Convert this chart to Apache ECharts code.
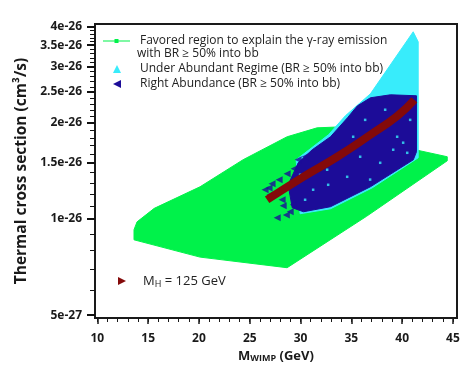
<!DOCTYPE html>
<html>
<head>
<meta charset="utf-8">
<script src="https://cdn.jsdelivr.net/npm/echarts@6/dist/echarts.min.js"></script>
<style>
html,body{margin:0;padding:0;background:#fff;}
#chart{width:474px;height:371px;}
</style>
</head>
<body>
<div id="chart"></div>
<script>
// ---- data (x: M_WIMP in GeV, y: thermal cross section in cm^3/s) ----
const xMajorTicks = [10, 15, 20, 25, 30, 35, 40, 45];
const yTickValues = [5e-27, 1e-26, 1.5e-26, 2e-26, 2.5e-26, 3e-26, 3.5e-26, 4e-26];
const yTickLabels = ['5e-27', '1e-26', '1.5e-26', '2e-26', '2.5e-26', '3e-26', '3.5e-26', '4e-26'];

// favoured region (outline of the green point cloud)
const favoredRegion = [
  [13.61, 8.61e-27], [13.61, 9.26e-27], [13.91, 9.8e-27], [15.6, 1.08e-26],
  [20.11, 1.262e-26], [24.35, 1.534e-26], [28.68, 1.81e-26], [31.63, 1.93e-26],
  [35.0, 1.95e-26], [41.28, 1.648e-26], [44.44, 1.567e-26], [44.44, 1.522e-26],
  [36.5, 1.02e-26], [28.68, 7.04e-27], [20.11, 7.6e-27]
];
// under-abundant regime (outline of the cyan cloud)
const underAbundant = [
  [41.09, 3.857e-26], [41.58, 3.589e-26], [41.58, 1.555e-26], [37.07, 1.253e-26],
  [32.95, 1.077e-26], [29.96, 1.039e-26], [29.57, 1.533e-26], [32.75, 1.836e-26],
  [34.41, 2.105e-26], [36.88, 2.467e-26]
];
// under-abundant points showing through the right-abundance cloud
const underAbundantPoints = [
  [40.5, 1.612e-26], [39.12, 1.648e-26], [34.59, 1.356e-26], [37.84, 1.5e-26],
  [35.87, 1.567e-26], [36.85, 1.329e-26], [32.72, 1.28e-26], [31.24, 1.235e-26],
  [39.51, 1.81e-26], [40.1, 1.734e-26], [35.18, 1.81e-26], [32.62, 1.427e-26],
  [40.79, 2.044e-26], [38.33, 2.199e-26], [36.36, 2.044e-26], [29.96, 1.376e-26],
  [30.45, 1.149e-26]
];
// right abundance (outline of the navy cloud)
const rightAbundance = [
  [29.77, 1.5e-26], [31.15, 1.648e-26], [32.95, 1.81e-26], [34.62, 2.075e-26],
  [35.6, 2.262e-26], [36.88, 2.397e-26], [38.85, 2.449e-26], [41.41, 2.432e-26],
  [41.41, 1.624e-26], [41.1, 1.533e-26], [36.88, 1.262e-26], [32.95, 1.093e-26],
  [30.29, 1.054e-26], [29.18, 1.085e-26], [28.78, 1.28e-26]
];
// isolated right-abundance points at the low-mass end
const rightAbundancePoints = [
  [26.51, 1.235e-26], [27.2, 1.29e-26], [27.89, 1.327e-26], [28.68, 1.386e-26],
  [29.37, 1.437e-26], [27.7, 1.009e-26], [28.29, 1.1e-26], [28.98, 1.054e-26],
  [28.19, 1.149e-26], [29.28, 1.108e-26], [27.0, 1.191e-26], [29.77, 1.533e-26],
  [30.45, 1.567e-26], [26.9, 1.25e-26], [28.6, 1.03e-26]
];
// M_H = 125 GeV band
const higgsBand = [
  [26.71, 1.149e-26], [30.27, 1.356e-26], [33.62, 1.567e-26],
  [36.88, 1.836e-26], [39.54, 2.105e-26], [41.2, 2.362e-26]
];

const nameGreen = 'Favored region to explain the γ-ray emission';
const nameCyan = 'Under Abundant Regime (BR ≥ 50% into bb)';
const nameNavy = 'Right Abundance (BR ≥ 50% into bb)';
const nameRed = 'MH = 125 GeV';

const cGreen = '#00f24a', cCyan = '#38ecfb', cNavy = '#1c0c98', cRed = '#840a0a';

const xMinorTicks = [];
for (let v = 10; v <= 45; v++) xMinorTicks.push(v);
const yMinorTickValues = [];
for (let i = 5; i <= 40; i++) yMinorTickValues.push(Number((i * 1e-27).toPrecision(3)));

const X_MIN = 9.77, X_MAX = 45.4, Y_MIN = 4.9e-27, Y_MAX = 4.08e-26;
const GRID_LEFT = 95;
const FONT = 'Open Sans';

// logarithmic y scale: the y axis works on log10(y / 1e-27)
const ly = function (v) { return Math.log10(v) + 27; };
const toLog = function (pts) { return pts.map(function (p) { return [p[0], ly(p[1])]; }); };
const yMajorLog = yTickValues.map(ly);
const yMinorLog = yMinorTickValues.map(ly);

function polygonSeries(name, pts, color, z) {
  const lp = toLog(pts);
  return {
    type: 'custom', name: name, data: lp, encode: { x: 0, y: 1 },
    xAxisIndex: 0, yAxisIndex: 0, z: z, silent: true,
    itemStyle: { color: color },
    renderItem: function (params, api) {
      if (params.dataIndex !== 0) return null;
      return {
        type: 'polygon',
        shape: { points: lp.map(function (p) { return api.coord(p); }) },
        style: { fill: color, stroke: color, lineWidth: 1 }
      };
    }
  };
}

const legendNote = { type: 'text', id: 'note', left: 137, top: 48, silent: true,
  style: { text: 'with BR ≥ 50% into bb', fontFamily: FONT, fontSize: 12, fill: '#222' } };

const chart = echarts.init(document.getElementById('chart'), null, { renderer: 'canvas' });
chart.setOption({
  animation: false,
  textStyle: { fontFamily: FONT },
  grid: { left: GRID_LEFT, right: 17, top: 24, bottom: 53, show: true, borderColor: '#1a1a1a', borderWidth: 2, backgroundColor: 'transparent', outerBoundsMode: 'none' },
  legend: [
    {
      data: [{ name: nameGreen, icon: 'path://M0,1.5L27,1.5L27,2.5L0,2.5Z M11.5,0L15.5,0L15.5,4L11.5,4Z' }],
      left: 103, top: 34, padding: 0, itemWidth: 27, itemHeight: 4, selectedMode: false,
      textStyle: { fontFamily: FONT, fontSize: 12, color: '#222', lineHeight: 14, padding: [0, 0, 0, 5] }
    },
    {
      data: [
        { name: nameCyan, icon: 'path://M4,0L8,8L0,8Z', itemStyle: { color: cCyan } },
        { name: nameNavy, icon: 'path://M0,4L8,0L8,8Z' }
      ],
      orient: 'vertical', left: 113, top: 62, padding: 0, itemWidth: 8, itemHeight: 8, itemGap: 1, selectedMode: false,
      textStyle: { fontFamily: FONT, fontSize: 12, color: '#222', lineHeight: 14, padding: [0, 0, 0, 14] }
    },
    {
      data: [{ name: nameRed, icon: 'path://M0,0L8,4L0,8Z' }],
      left: 118, top: 274, padding: 0, itemWidth: 8, itemHeight: 8, selectedMode: false,
      formatter: function () { return '{a|M}{b|H}{a| = 125 GeV}'; },
      textStyle: {
        fontFamily: FONT, fontSize: 13, color: '#222', lineHeight: 14, padding: [0, 0, 0, 12],
        rich: {
          a: { fontFamily: FONT, fontSize: 13, color: '#222' },
          b: { fontFamily: FONT, fontSize: 9, color: '#222', padding: [6, 0, 0, 0] }
        }
      }
    }
  ],
  graphic: [legendNote],
  xAxis: [
    {
      type: 'value', min: X_MIN, max: X_MAX, position: 'bottom',
      axisLine: { show: false, onZero: false },
      axisTick: { show: true, length: 6, customValues: xMajorTicks, lineStyle: { color: '#1a1a1a', width: 1.5 } },
      axisLabel: { customValues: xMajorTicks, fontFamily: FONT, fontSize: 12, fontWeight: 'bold', color: '#1a1a1a', margin: 15 },
      splitLine: { show: false },
      name: '{a|M}{b|WIMP}{a| (GeV)}', nameLocation: 'middle', nameGap: 26,
      nameTextStyle: {
        rich: {
          a: { fontFamily: FONT, fontSize: 13, fontWeight: 'bold', color: '#1a1a1a' },
          b: { fontFamily: FONT, fontSize: 9, fontWeight: 'bold', color: '#1a1a1a', padding: [5, 0, 0, 0] }
        }
      }
    },
    {
      type: 'value', min: X_MIN, max: X_MAX, position: 'bottom', offset: 0,
      axisLine: { show: false, onZero: false },
      axisTick: { show: true, length: 4, customValues: xMinorTicks, lineStyle: { color: '#1a1a1a', width: 1 } },
      axisLabel: { show: false },
      splitLine: { show: false }
    }
  ],
  yAxis: [
    {
      type: 'value', min: ly(Y_MIN), max: ly(Y_MAX), position: 'left',
      axisLine: { show: false, onZero: false },
      axisTick: { show: false },
      axisLabel: {
        customValues: yMajorLog, fontFamily: FONT, fontSize: 12, fontWeight: 'bold', color: '#1a1a1a', margin: 13,
        formatter: function (v) {
          for (let i = 0; i < yMajorLog.length; i++) {
            if (Math.abs(v - yMajorLog[i]) < 1e-6) return yTickLabels[i];
          }
          return '';
        }
      },
      splitLine: { show: false },
      name: 'Thermal cross section (cm³/s)', nameLocation: 'middle', nameGap: 63,
      nameTextStyle: { fontFamily: FONT, fontSize: 15.5, fontWeight: 'bold', color: '#1a1a1a' }
    }
  ],
  series: [
    polygonSeries(nameGreen, favoredRegion, cGreen, 1),
    polygonSeries(nameCyan, underAbundant, cCyan, 2),
    polygonSeries(nameNavy, rightAbundance, cNavy, 3),
    {
      type: 'scatter', name: nameNavy, data: toLog(rightAbundancePoints), xAxisIndex: 0, yAxisIndex: 0, z: 3,
      symbol: 'path://M0,4L8,0L8,8Z', symbolSize: 7, itemStyle: { color: cNavy }, silent: true
    },
    {
      type: 'scatter', name: nameCyan, data: toLog(underAbundantPoints), xAxisIndex: 0, yAxisIndex: 0, z: 3,
      symbol: 'rect', symbolSize: 2.5, itemStyle: { color: cCyan }, silent: true
    },
    {
      type: 'line', name: nameRed, data: toLog(higgsBand), xAxisIndex: 0, yAxisIndex: 0, z: 4,
      showSymbol: false, smooth: true, silent: true,
      lineStyle: { width: 8, color: cRed, cap: 'butt' }, itemStyle: { color: cRed }
    }
  ]
});

// y-axis tick marks: vertical positions come from the chart's own y scale
function yPixel(v) {
  let p = null;
  try { p = chart.convertToPixel({ yAxisIndex: 0 }, v); } catch (e) { p = null; }
  if (Array.isArray(p)) p = p[1];
  if (typeof p !== 'number' || !isFinite(p)) {
    try {
      const q = chart.convertToPixel({ gridIndex: 0 }, [X_MIN, v]);
      p = Array.isArray(q) ? q[1] : null;
    } catch (e) { p = null; }
  }
  return (typeof p === 'number' && isFinite(p)) ? p : null;
}
const tickGraphics = [legendNote];
function addYTicks(values, len, width, prefix) {
  values.forEach(function (v, i) {
    const py = yPixel(v);
    if (py === null) return;
    const yy = Math.round(py) + (width % 2 === 1 ? 0.5 : 0);
    tickGraphics.push({
      type: 'line', id: prefix + i, silent: true, z: 100,
      shape: { x1: GRID_LEFT - len, y1: yy, x2: GRID_LEFT, y2: yy },
      style: { stroke: '#111111', lineWidth: width }
    });
  });
}
addYTicks(yMinorLog, 5, 1, 'ymin');
addYTicks(yMajorLog, 8, 2, 'ymaj');
chart.setOption({ graphic: tickGraphics });
</script>
</body>
</html>
